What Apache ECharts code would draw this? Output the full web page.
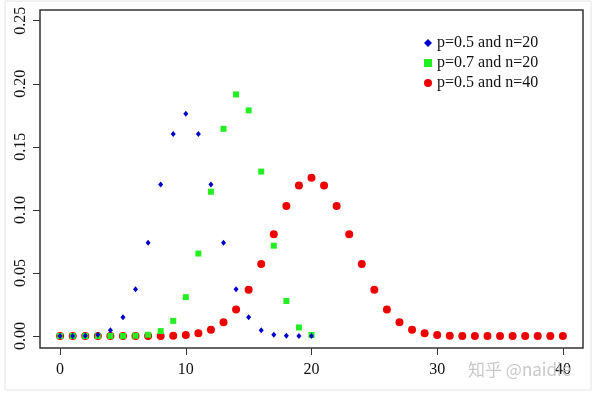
<!DOCTYPE html>
<html>
<head>
<meta charset="utf-8">
<script src="https://cdn.jsdelivr.net/npm/echarts@6/dist/echarts.min.js"></script>
<style>html,body{margin:0;padding:0;background:#fff;}#c{width:600px;height:394px;}</style>
</head>
<body>
<div id="c"></div>
<script>
const xTicks = [0, 10, 20, 30, 40];
const yTicks = [0, 0.05, 0.10, 0.15, 0.20, 0.25];
const seriesNames = ['p=0.5 and n=20', 'p=0.7 and n=20', 'p=0.5 and n=40'];
// p=0.5, n=20 (x = 0..20)
const blueVals = [0.000001,0.000019,0.00018,0.0011,0.0046,0.0148,0.0370,0.0739,0.1201,0.1602,0.1762,0.1602,0.1201,0.0739,0.0370,0.0148,0.0046,0.0011,0.00018,0.000019,0.000001];
// p=0.7, n=20 (x = 0..20)
const greenVals = [0,0,0,0,0.000005,0.000037,0.00022,0.0010,0.0039,0.0120,0.0308,0.0654,0.1144,0.1643,0.1916,0.1789,0.1304,0.0716,0.0278,0.0068,0.0008];
// p=0.5, n=40 (x = 0..40)
const redVals = [0,0,0,0,0,0,0,0.00002,0.00007,0.00025,0.0008,0.0021,0.0050,0.0109,0.0211,0.0366,0.0572,0.0807,0.1031,0.1194,0.1254,0.1194,0.1031,0.0807,0.0572,0.0366,0.0211,0.0109,0.0050,0.0021,0.0008,0.00025,0.00007,0.00002,0,0,0,0,0,0,0];

const toPts = arr => arr.map((v, i) => [i, v]);
const font = '"Liberation Serif", "DejaVu Serif", serif';
const chart = echarts.init(document.getElementById('c'));
chart.setOption({
  animation: false,
  backgroundColor: '#fff',
  grid: { left: 40, right: 17, top: 10, bottom: 46, show: true, borderColor: '#333', borderWidth: 1.5, backgroundColor: 'transparent' },
  xAxis: {
    type: 'value', min: -1.6, max: 41.6,
    axisLine: { show: false, onZero: false },
    splitLine: { show: false },
    axisTick: { show: true, customValues: xTicks, length: 7, lineStyle: { color: '#333', width: 1 } },
    axisLabel: { customValues: xTicks, margin: 14, fontFamily: font, fontSize: 16, color: '#111' }
  },
  yAxis: {
    type: 'value', min: -0.0095, max: 0.2585,
    axisLine: { show: false, onZero: false },
    splitLine: { show: false },
    axisTick: { show: true, customValues: yTicks, length: 7, lineStyle: { color: '#333', width: 1 } },
    axisLabel: { customValues: yTicks, rotate: 90, margin: 11, fontFamily: font, fontSize: 16, color: '#111',
      formatter: v => v.toFixed(2) }
  },
  legend: {
    data: seriesNames,
    orient: 'vertical', left: 419, top: 30, itemGap: 4,
    itemWidth: 8, itemHeight: 8,
    textStyle: { fontFamily: font, fontSize: 16, color: '#111' }
  },
  series: [
    { name: seriesNames[2], type: 'scatter', symbol: 'circle', symbolSize: 8, data: toPts(redVals), itemStyle: { color: '#ee0000', opacity: 1 }, z: 2 },
    { name: seriesNames[1], type: 'scatter', symbol: 'rect', symbolSize: 6, data: toPts(greenVals), itemStyle: { color: '#22ee22', opacity: 1 }, z: 3 },
    { name: seriesNames[0], type: 'scatter', symbol: 'diamond', symbolSize: [5, 6], data: toPts(blueVals), itemStyle: { color: '#0000cc', opacity: 1 }, z: 4 }
  ],
  graphic: [
    { type: 'rect', shape: { x: 5, y: 1, width: 586, height: 389 }, style: { fill: 'none', stroke: '#e4e4e4', lineWidth: 1 }, silent: true },
    { type: 'text', left: 468, top: 361, style: { text: '知乎 @naidie', font: '17px "Noto Sans CJK SC", sans-serif', fill: 'rgba(190,190,190,0.85)' }, z: 10, silent: true }
  ]
});
</script>
</body>
</html>
